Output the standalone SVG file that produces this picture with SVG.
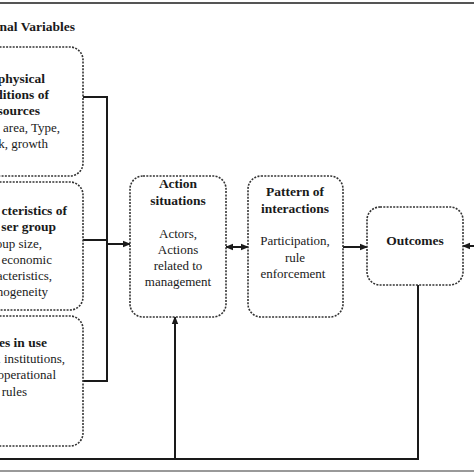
<svg xmlns="http://www.w3.org/2000/svg" width="474" height="474" viewBox="0 0 474 474">
<style>
.box{fill:#fff;stroke:#333;stroke-width:1.6;stroke-dasharray:2 1.3}
.ln{fill:none;stroke:#1a1a1a;stroke-width:2}
.t{fill:#1a1a1a;font-size:13px}
.b{font-weight:bold;font-size:13.5px}
.c{text-anchor:middle}
.e{text-anchor:end}
</style>
<defs>
<marker id="ah" markerWidth="8" markerHeight="8" refX="7" refY="4" orient="auto" markerUnits="userSpaceOnUse">
<path d="M0,0.8 L8,4 L0,7.2 Z" fill="#1a1a1a"/>
</marker>
<marker id="as" markerWidth="8" markerHeight="8" refX="1" refY="4" orient="auto" markerUnits="userSpaceOnUse">
<path d="M8,0.8 L0,4 L8,7.2 Z" fill="#1a1a1a"/>
</marker>
</defs>
<rect width="474" height="474" fill="#fff"/>
<line x1="0" y1="3" x2="474" y2="3" stroke="#555" stroke-width="2"/>
<line x1="0" y1="471" x2="474" y2="471" stroke="#999" stroke-width="2"/>

<g id="connectors">
<polyline class="ln" points="83,97 107,97 107,381 83,381"/>
<line class="ln" x1="83" y1="240" x2="107" y2="240"/>
<line class="ln" x1="107" y1="244" x2="130" y2="244" marker-end="url(#ah)"/>
<line class="ln" x1="226" y1="247" x2="248" y2="247" marker-start="url(#as)" marker-end="url(#ah)"/>
<line class="ln" x1="343" y1="247" x2="367" y2="247" marker-end="url(#ah)"/>
<line class="ln" x1="474" y1="246" x2="463" y2="246" marker-end="url(#ah)"/>
<polyline class="ln" points="418,285 418,459 0,459"/>
<line class="ln" x1="175" y1="459" x2="175" y2="317" marker-end="url(#ah)"/>
</g>

<g font-family="Liberation Serif, Times New Roman, DejaVu Serif, serif">
<text class="t b e" x="75" y="31">nal Variables</text>

<g id="biophysical">
<rect class="box" x="-30" y="47" width="113" height="129" rx="13"/>
<text class="t b e" x="45" y="83">physical</text>
<text class="t b e" x="49" y="99">ditions of</text>
<text class="t b e" x="40" y="115">sources</text>
<text class="t e" x="60" y="132">area, Type,</text>
<text class="t e" x="48" y="148">k, growth</text>
</g>

<g id="usergroup">
<rect class="box" x="-30" y="182" width="113" height="128" rx="13"/>
<text class="t b e" x="67" y="215">cteristics of</text>
<text class="t b e" x="56" y="231">ser group</text>
<text class="t e" x="42" y="248">oup size,</text>
<text class="t e" x="52" y="264">economic</text>
<text class="t e" x="52" y="280">acteristics,</text>
<text class="t e" x="48" y="296">nogeneity</text>
</g>

<g id="rulesinuse">
<rect class="box" x="-30" y="316" width="113" height="130" rx="13"/>
<text class="t b e" x="47" y="347">es in use</text>
<text class="t e" x="65" y="363">l institutions,</text>
<text class="t e" x="56" y="379">operational</text>
<text class="t e" x="27" y="396">rules</text>
</g>

<g id="action">
<rect class="box" x="130" y="176" width="96" height="141" rx="13"/>
<text class="t b c" x="178" y="188">Action</text>
<text class="t b c" x="178" y="205">situations</text>
<text class="t c" x="178" y="238">Actors,</text>
<text class="t c" x="178" y="254">Actions</text>
<text class="t c" x="178" y="270">related to</text>
<text class="t c" x="178" y="286">management</text>
</g>

<g id="pattern">
<rect class="box" x="248" y="176" width="95" height="141" rx="13"/>
<text class="t b c" x="295" y="196">Pattern of</text>
<text class="t b c" x="295" y="213">interactions</text>
<text class="t c" x="295" y="245">Participation,</text>
<text class="t c" x="295" y="262">rule</text>
<text class="t c" x="293" y="278">enforcement</text>
</g>

<g id="outcomes">
<rect class="box" x="367" y="207" width="96" height="78" rx="13"/>
<text class="t b c" x="415" y="245">Outcomes</text>
</g>
</g>
</svg>
